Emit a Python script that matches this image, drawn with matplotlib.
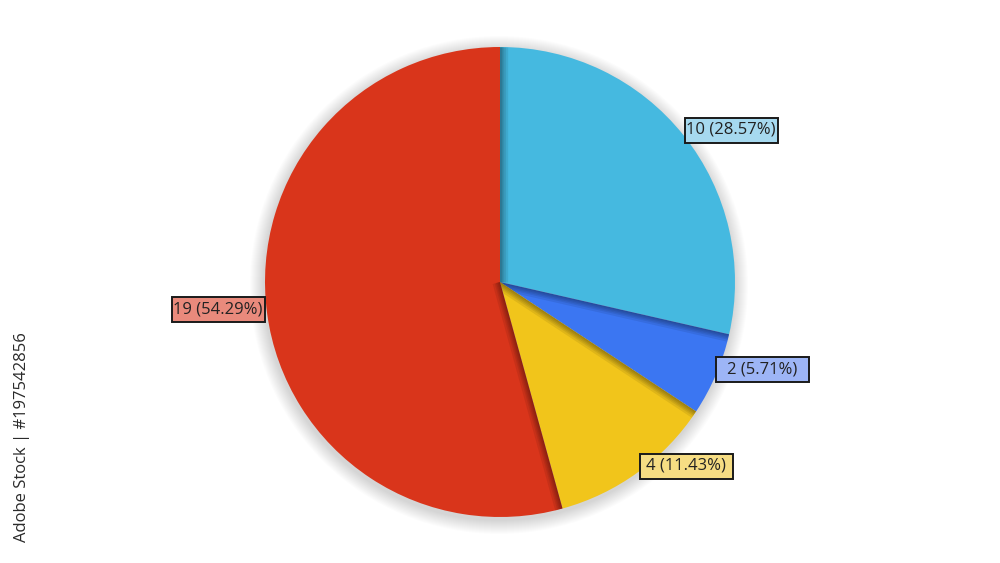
import numpy as np
import matplotlib
matplotlib.use("Agg")
import matplotlib.pyplot as plt
from matplotlib.patches import Circle, Rectangle

counts = [10, 2, 4, 19]
slice_colors = ["#45B9E0", "#3B76F2", "#F1C51B", "#D9351B"]
box_colors = ["#A6D9EF", "#9DB5F6", "#F6DD83", "#E98A7C"]
# label box centres (pixels, origin top-left)
label_pos = [(731, 130), (762, 369), (686, 466), (218, 309)]
box_w, box_h = 93, 25

W, H = 1000, 563
cx, cy, R = 500, 563 - 282, 235

plt.rcParams['font.family'] = ['Open Sans', 'DejaVu Sans']

fig = plt.figure(figsize=(10, 5.63), dpi=100)
ax = fig.add_axes([0, 0, 1, 1])
ax.set_xlim(0, W)
ax.set_ylim(0, H)
ax.set_aspect('equal')
ax.axis('off')

# soft drop shadow behind the pie
for i in range(14):
    ax.add_patch(Circle((cx - 1, cy - 3), R + 14 - i, color="black",
                        alpha=0.011, lw=0, zorder=0))

wedges, _ = ax.pie(counts, colors=slice_colors, startangle=90, counterclock=False,
                   center=(cx, cy), radius=R, frame=True,
                   wedgeprops=dict(linewidth=0))
ax.set_xlim(0, W)
ax.set_ylim(0, H)
ax.axis('off')

# inner shadow along the starting edge of each slice
total = sum(counts)
start = 90.0
for w, c in zip(wedges, counts):
    a = np.deg2rad(start)
    xs = [cx, cx + R * np.cos(a)]
    ys = [cy, cy + R * np.sin(a)]
    for lw in [2, 4, 6, 8, 11]:
        ln, = ax.plot(xs, ys, color="black", lw=lw, alpha=0.08,
                      solid_capstyle='butt', zorder=3)
        ln.set_clip_path(w)
    start -= 360.0 * c / total

for c, bc, (px, py) in zip(counts, box_colors, label_pos):
    pct = 100.0 * c / total
    ax.add_patch(Rectangle((px - box_w / 2, H - py - box_h / 2), box_w, box_h,
                           fc=bc, ec="#1a1a1a", lw=1.4, zorder=5))
    ax.text(px, H - py, f"{c} ({pct:.2f}%)", ha="center", va="center",
            fontsize=12, color="#222222", zorder=6)

ax.text(22, H - 437, "Adobe Stock | #197542856", rotation=90, ha="center",
        va="center", fontsize=12, color="#2a2a2a")

fig.savefig("out.png", dpi=100)
